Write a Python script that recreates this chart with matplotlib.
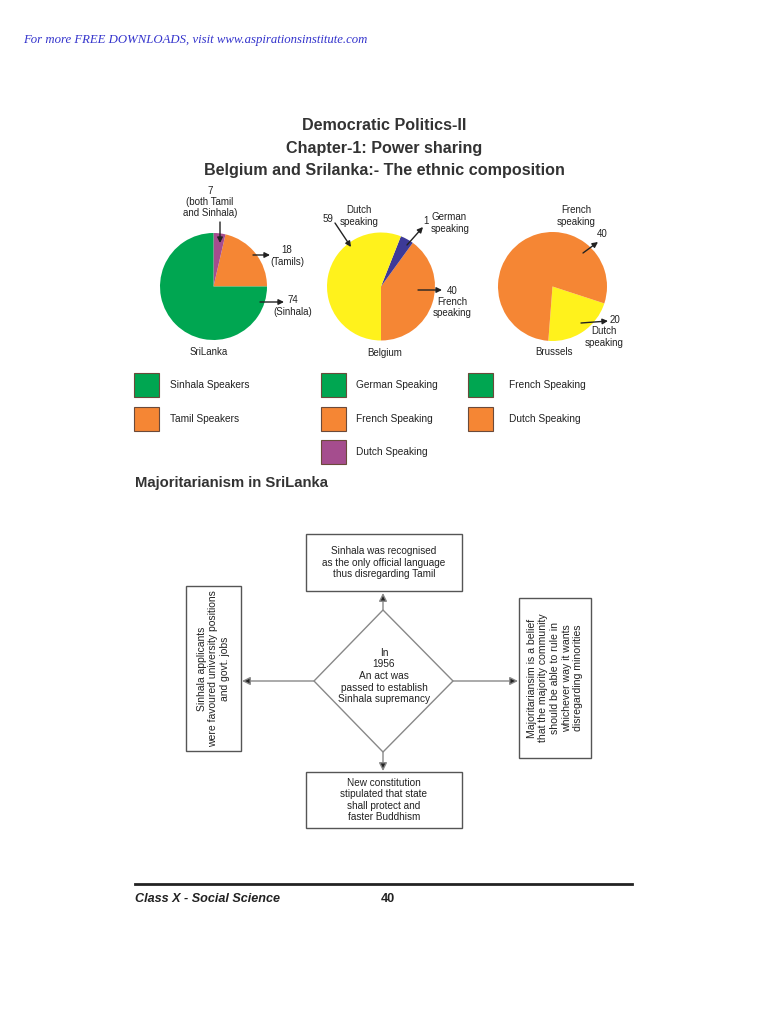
import matplotlib.pyplot as plt
from matplotlib.patches import Rectangle, Polygon

plt.rcParams['font.family'] = ['Liberation Sans', 'DejaVu Sans']

# pie data: shares as drawn, values as labelled
srilanka_names = ['Tamils', 'both Tamil and Sinhala', 'Sinhala']
srilanka_share = [21.4, 3.6, 75.0]
srilanka_values = [18, 7, 74]
belgium_names = ['French speaking', 'German speaking', 'Dutch speaking']
belgium_share = [40.0, 4.0, 56.0]
belgium_values = [40, 1, 59]
brussels_names = ['Dutch speaking', 'French speaking']
brussels_share = [21.2, 78.8]
brussels_values = [20, 40]

legend_cols = [
    [('Sinhala Speakers', '#00A651'), ('Tamil Speakers', '#F58634')],
    [('German Speaking', '#00A651'), ('French Speaking', '#F58634'), ('Dutch Speaking', '#A54D8E')],
    [('French Speaking', '#00A651'), ('Dutch Speaking', '#F58634')],
]

GREEN, ORANGE, PURPLE, YELLOW, BLUE = '#00A651', '#F58634', '#A54D8E', '#FFF21C', '#3D3A98'
TXT = '#222222'
H = 1024


def Y(y):
    return H - y


fig = plt.figure(figsize=(7.68, 10.24), dpi=100)
ax = fig.add_axes([0, 0, 1, 1])

# header
ax.text(23, Y(40), 'For more FREE DOWNLOADS, visit www.aspirationsinstitute.com',
        family=['Liberation Serif'], style='italic', fontsize=9.2, color='#3333CC', va='center')

# titles
for i, t in enumerate(['Democratic Politics-II', 'Chapter-1: Power sharing',
                       'Belgium and Srilanka:- The ethnic composition']):
    ax.text(384, Y(125 + 23 * i), t, fontsize=11.6, fontweight='bold', color='#333333',
            ha='center', va='center')

# pies
ax.pie(srilanka_share, colors=[ORANGE, PURPLE, GREEN], startangle=0, counterclock=True,
       center=(213.5, Y(286.5)), radius=53.5, frame=True)
ax.pie(belgium_share, colors=[ORANGE, BLUE, YELLOW], startangle=-90, counterclock=True,
       center=(381, Y(286.5)), radius=54, frame=True)
ax.pie(brussels_share, colors=[YELLOW, ORANGE], startangle=-94.4, counterclock=True,
       center=(552.5, Y(286.5)), radius=54.5, frame=True)


def arrow(x0, y0, x1, y1, ec=TXT, fc=TXT, ms=8):
    ax.annotate('', xy=(x1, Y(y1)), xytext=(x0, Y(y0)),
                arrowprops=dict(arrowstyle='-|>', ec=ec, fc=fc, lw=1, mutation_scale=ms,
                                shrinkA=0, shrinkB=0))


def small(x, y, s, ha='center'):
    ax.text(x, Y(y), s, fontsize=7, color=TXT, ha=ha, va='center', linespacing=1.15)


# Sri Lanka labels
small(210, 202, f'{srilanka_values[1]}\n(both Tamil\nand Sinhala)')
arrow(220, 222, 220, 243)
small(287, 256, f'{srilanka_values[0]}\n(Tamils)')
arrow(253, 255, 270, 255)
small(293, 306, f'{srilanka_values[2]}\n(Sinhala)')
arrow(260, 302, 284, 302)
small(209, 352, 'SriLanka')

# Belgium labels
small(359, 216, 'Dutch\nspeaking')
small(328, 219, f'{belgium_values[2]}')
arrow(335, 223, 351, 247)
small(426, 221, f'{belgium_values[1]}')
small(431, 223, 'German\nspeaking', ha='left')
arrow(407, 245, 423, 227)
small(452, 302, f'{belgium_values[0]}\nFrench\nspeaking')
arrow(418, 290, 442, 290)
small(385, 353, 'Belgium')

# Brussels labels
small(576, 216, 'French\nspeaking')
small(602, 234, f'{brussels_values[1]}')
arrow(583, 253, 598, 242)
small(615, 320, f'{brussels_values[0]}')
small(604, 337, 'Dutch\nspeaking')
arrow(581, 323, 608, 321)
small(554, 352, 'Brussels')

# legends
col_x = [134, 321, 468]
col_tx = [170, 356, 509]
for c, items in enumerate(legend_cols):
    for r, (lab, col) in enumerate(items):
        yc = 385 + 33.5 * r
        ax.add_patch(Rectangle((col_x[c], Y(yc + 12)), 25, 24, fc=col, ec='#6B4A3A', lw=0.8))
        ax.text(col_tx[c], Y(yc), lab, fontsize=7.3, color=TXT, va='center')

ax.text(135, Y(483), 'Majoritarianism in SriLanka', fontsize=10.7, fontweight='bold',
        color='#333333', va='center')

# flowchart
BOX = '#555555'


def box(x0, y0, x1, y1, s, rot=0, fs=7.2):
    ax.add_patch(Rectangle((x0, Y(y1)), x1 - x0, y1 - y0, fc='white', ec=BOX, lw=1))
    ax.text((x0 + x1) / 2, Y((y0 + y1) / 2), s, fontsize=fs, color=TXT, ha='center',
            va='center', rotation=rot, multialignment='center', linespacing=1.2)


box(306, 534, 462, 591, 'Sinhala was recognised\nas the only official language\nthus disregarding Tamil')
box(306, 772, 462, 828, 'New constitution\nstipulated that state\nshall protect and\nfaster Buddhism')
box(186, 586, 241, 751, 'Sinhala applicants\nwere favoured university positions\nand govt. jobs',
    rot=90, fs=7.5)
box(519, 598, 591, 758, 'Majoritariansim is a belief\nthat the majority community\nshould be able to rule in\n'
    'whichever way it wants\ndisregarding minorities', rot=90, fs=7.6)

ax.add_patch(Polygon([(383, Y(610)), (453, Y(681)), (383, Y(752)), (314, Y(681))],
                     closed=True, fc='white', ec='#888888', lw=1))
ax.text(384, Y(676), 'In\n1956\nAn act was\npassed to establish\nSinhala supremancy',
        fontsize=7.3, color=TXT, ha='center', va='center', linespacing=1.2)
arrow(383, 610, 383, 593, ec='#888888', ms=12)
arrow(383, 752, 383, 771, ec='#888888', ms=12)
arrow(314, 681, 242, 681, ec='#888888', ms=12)
arrow(453, 681, 518, 681, ec='#888888', ms=12)

# footer
ax.plot([135, 632], [Y(884), Y(884)], color='#222222', lw=2)
ax.text(135, Y(899), 'Class X - Social Science', fontsize=9.1, fontweight='bold',
        style='italic', color=TXT, va='center')
ax.text(381, Y(899), '40', fontsize=9.1, fontweight='bold', color=TXT, va='center')

ax.set_xlim(0, 768)
ax.set_ylim(0, H)
ax.set_aspect('equal')
ax.axis('off')

fig.savefig('out.png', dpi=100, facecolor='white')
